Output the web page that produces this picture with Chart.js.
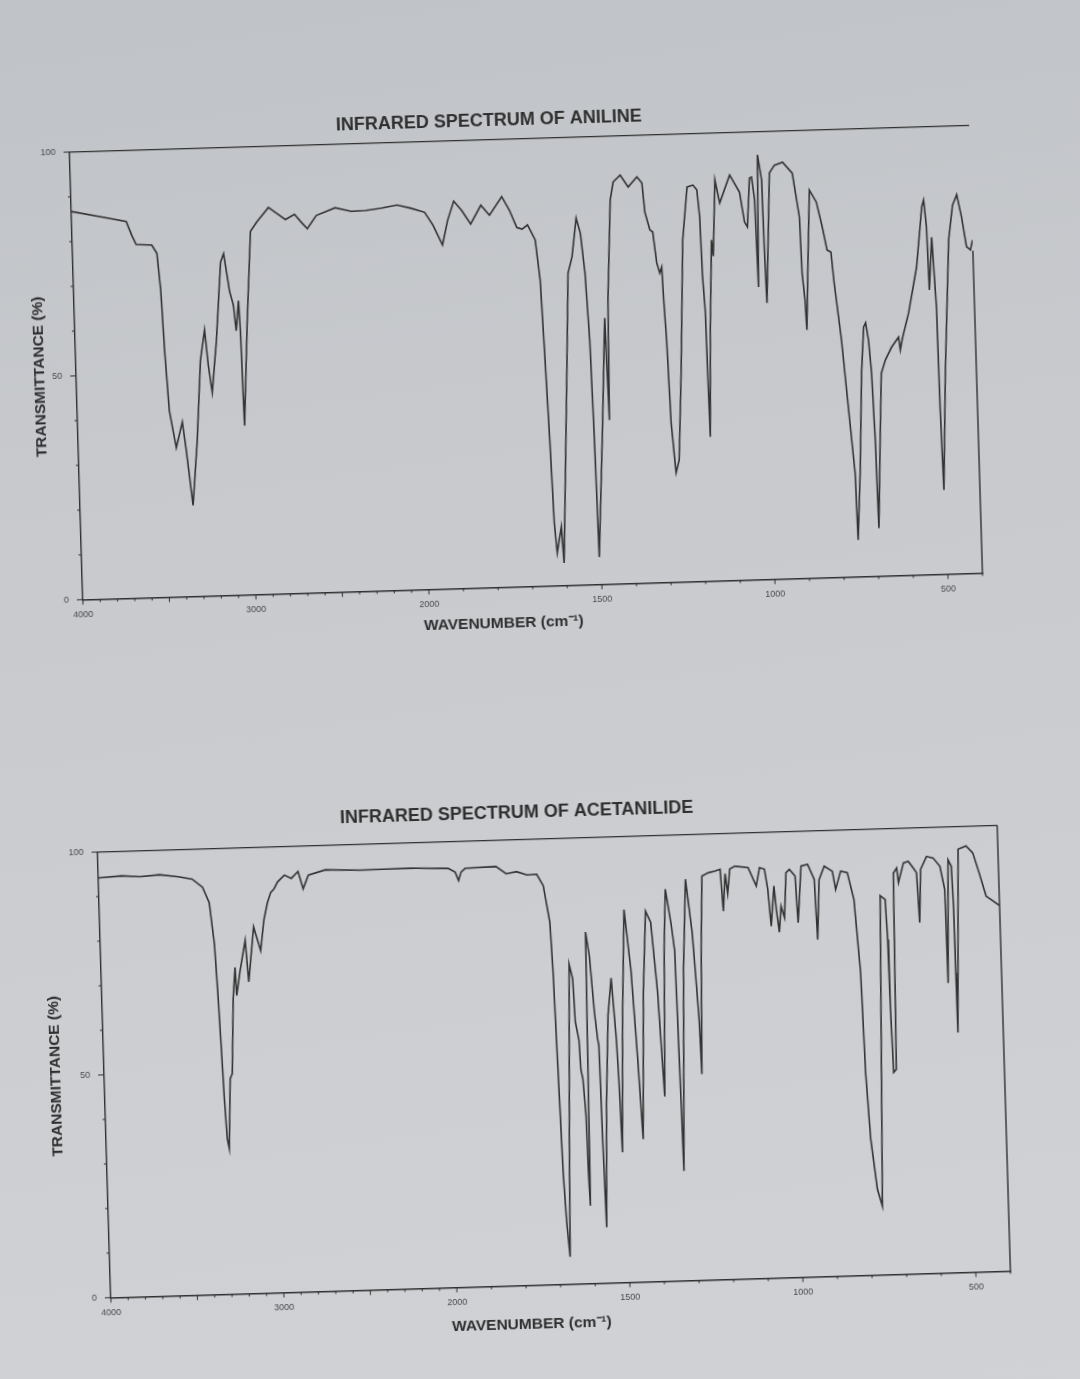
<!DOCTYPE html>
<html>
<head>
<meta charset="utf-8">
<script src="https://cdn.jsdelivr.net/npm/chart.js@4.4.1/dist/chart.umd.min.js"></script>
<style>
  html, body { margin: 0; padding: 0; }
  body {
    width: 1080px; height: 1379px; overflow: hidden; position: relative;
    background: linear-gradient(172deg, #c0c3c7 0%, #c9cbcf 45%, #d0d2d5 100%);
  }
  .sheet { position: absolute; left: 0; top: 0; }
  .sheet canvas { display: block; }
</style>
</head>
<body>
<div class="sheet" id="topBox"><canvas id="anilineChart"></canvas></div>
<div class="sheet" id="bottomBox"><canvas id="acetChart"></canvas></div>
<script>
// aniline: wavenumber (cm-1) and transmittance (%)
var anilineWn = [4000, 3804, 3685, 3654, 3631, 3541, 3513, 3497, 3485, 3468, 3434, 3395, 3377, 3347, 3312, 3280,
  3251, 3235, 3217, 3184, 3147, 3128, 3100, 3080, 3068, 3050, 3044, 3036, 3003, 2969, 2932, 2861,
  2810, 2765, 2712, 2674, 2640, 2586, 2476, 2384, 2298, 2211, 2118, 2039, 1980, 1957, 1931, 1914,
  1895, 1873, 1848, 1817, 1793, 1756, 1735, 1715, 1700, 1684, 1663, 1652, 1645, 1638, 1632, 1626,
  1612, 1607, 1583, 1571, 1558, 1543, 1532, 1522, 1514, 1509, 1505, 1485, 1469, 1464, 1458, 1443,
  1433, 1412, 1390, 1364, 1350, 1344, 1331, 1323, 1314, 1306, 1300, 1297, 1292, 1286, 1276, 1266,
  1253, 1237, 1220, 1203, 1192, 1186, 1183, 1178, 1174, 1165, 1154, 1150, 1139, 1127, 1096, 1069,
  1057, 1049, 1039, 1033, 1026, 1022, 1014, 1004, 1002, 999, 981, 966, 942, 915, 898, 895,
  889, 886, 877, 867, 848, 833, 821, 810, 804, 787, 773, 759, 756, 744, 732, 722,
  716, 709, 703, 698, 695, 684, 675, 662, 643, 622, 618, 611, 591, 564, 544, 538,
  532, 529, 518, 510, 508, 504, 490, 469, 455, 442, 430, 418, 407, 400]
var anilineT = [86.7, 85.1, 84.1, 80.9, 78.9, 78.7, 76.8, 68.5, 55.1, 41.6, 33.3, 39.0, 32.6, 20.3, 34.8, 52.6,
  59.4, 51.4, 45.4, 57.0, 74.4, 76.3, 67.9, 64.7, 59.0, 65.7, 59.0, 37.8, 61.0, 81.1, 83.1, 86.3,
  84.8, 83.5, 84.6, 82.8, 81.3, 84.2, 85.8, 84.9, 85.0, 85.4, 86.0, 85.2, 84.2, 81.3, 76.8, 82.3,
  86.5, 84.4, 81.3, 85.4, 83.1, 87.2, 84.1, 80.2, 79.8, 80.7, 77.3, 68.3, 51.1, 32.5, 14.0, 7.3,
  13.1, 5.0, 47.4, 69.7, 73.3, 81.9, 78.5, 69.6, 54.6, 32.3, 6.1, 34.4, 59.4, 36.6, 63.4, 85.7,
  89.7, 91.2, 88.5, 90.7, 89.3, 82.8, 78.8, 78.3, 71.4, 69.1, 70.4, 63.1, 54.1, 35.5, 24.4, 27.2,
  46.6, 76.3, 88.1, 88.5, 87.4, 81.3, 68.4, 60.5, 32.2, 56.0, 76.1, 72.5, 89.5, 84.3, 90.5, 86.6,
  79.9, 78.8, 89.7, 89.9, 84.8, 65.3, 94.8, 89.2, 73.5, 61.7, 90.7, 92.4, 93.0, 90.5, 80.6, 68.1,
  62.1, 55.4, 70.9, 86.6, 83.9, 78.3, 73.1, 72.6, 66.3, 52.9, 37.9, 23.1, 8.2, 23.8, 45.4, 55.7,
  56.6, 52.7, 45.3, 30.4, 10.7, 30.3, 45.2, 48.2, 51.0, 53.2, 50.3, 52.9, 58.5, 68.7, 82.1, 83.6,
  77.6, 63.5, 75.3, 59.7, 37.3, 18.8, 44.9, 74.6, 82.3, 84.6, 79.6, 72.9, 72.2, 74.4]

// acetanilide
var acetWn = [4000, 3864, 3760, 3646, 3537, 3459, 3400, 3364, 3341, 3329, 3319, 3310, 3300, 3290, 3273, 3260,
  3242, 3226, 3221, 3198, 3163, 3149, 3112, 3075, 3051, 3028, 3007, 2987, 2966, 2925, 2886, 2846,
  2819, 2787, 2688, 2490, 2194, 1989, 1969, 1960, 1952, 1940, 1851, 1822, 1792, 1762, 1734, 1716,
  1700, 1695, 1691, 1687, 1683, 1677, 1670, 1663, 1655, 1648, 1639, 1635, 1626, 1623, 1618, 1612,
  1610, 1607, 1603, 1598, 1589, 1579, 1572, 1569, 1566, 1562, 1552, 1540, 1528, 1518, 1514, 1510,
  1498, 1485, 1470, 1458, 1449, 1436, 1423, 1409, 1395, 1383, 1372, 1364, 1350, 1342, 1338, 1334,
  1318, 1305, 1290, 1282, 1277, 1274, 1265, 1257, 1238, 1219, 1204, 1198, 1190, 1184, 1176, 1161,
  1123, 1101, 1090, 1076, 1068, 1061, 1050, 1045, 1038, 1031, 1022, 1014, 1004, 988, 983, 970,
  951, 933, 928, 919, 903, 880, 872, 856, 837, 820, 807, 801, 792, 777, 764, 744,
  730, 726, 724, 720, 712, 704, 694, 690, 674, 660, 646, 637, 632, 625, 607, 588,
  569, 557, 555, 545, 536, 533, 532, 531, 515, 492, 473, 456, 438, 424, 400]
var acetT = [94.2, 94.5, 94.2, 94.5, 93.9, 93.3, 91.4, 87.9, 78.6, 67.0, 55.1, 43.8, 34.9, 32.6, 48.3, 49.4,
  66.2, 73.2, 66.9, 72.3, 79.2, 69.9, 82.2, 76.8, 83.7, 87.5, 89.8, 90.6, 92.1, 93.6, 92.8, 94.3,
  90.4, 93.4, 94.5, 94.2, 94.3, 94.0, 93.1, 91.2, 93.1, 93.9, 94.1, 92.4, 92.8, 92.0, 92.1, 89.5,
  81.2, 70.0, 55.0, 40.1, 25.1, 13.9, 6.1, 30.3, 52.7, 71.7, 68.4, 58.7, 54.6, 48.0, 45.9, 37.6,
  25.0, 17.4, 45.0, 78.8, 73.5, 60.7, 54.7, 53.3, 32.0, 12.5, 40.0, 60.0, 68.3, 54.6, 45.0, 29.2,
  60.0, 83.6, 70.0, 50.0, 32.0, 65.0, 83.1, 80.6, 65.0, 41.4, 75.0, 87.9, 80.0, 74.0, 50.0, 24.6,
  70.0, 90.0, 78.0, 66.0, 58.0, 46.2, 75.0, 90.6, 91.3, 91.6, 92.0, 82.6, 91.0, 86.5, 92.0, 92.6,
  92.2, 88.0, 92.1, 91.7, 87.2, 78.9, 87.9, 82.6, 77.5, 83.3, 80.7, 90.8, 91.5, 90.0, 79.5, 92.2,
  92.5, 89.1, 75.6, 89.0, 92.0, 90.8, 86.7, 90.8, 90.4, 84.3, 67.9, 45.3, 30.5, 19.2, 15.4, 85.0,
  84.1, 75.1, 60.2, 45.3, 46.0, 90.0, 91.1, 87.8, 92.2, 92.5, 91.0, 89.9, 78.7, 90.6, 93.5, 93.1,
  91.2, 86.0, 65.0, 92.6, 91.1, 82.1, 67.2, 53.8, 94.9, 95.6, 94.0, 89.4, 84.2, 83.4, 82.0]

var xLabelWn = [4000, 3000, 2000, 1500, 1000, 500]
var yLabelT = [0, 50, 100]

var ink = '#2f2f2f'
Chart.defaults.font.family = "'Liberation Sans', Arial, sans-serif"

// 4000-2000 is drawn at half the scale of 2000-400, like the printed chart
function toAxis(w) { return w >= 2000 ? (4000 - w) / 2 : 3000 - w }
function fromAxis(p) { return p <= 1000 ? 4000 - 2 * p : 3000 - p }

// top/right frame lines and the small tick marks
var frameTicks = {
  id: 'frameTicks',
  afterDraw: function(chart, args, opts) {
    var ctx = chart.ctx, a = chart.chartArea
    var xs = chart.scales.x, ys = chart.scales.y
    ctx.save()
    ctx.strokeStyle = ink
    ctx.lineWidth = 1.4
    ctx.beginPath()
    ctx.moveTo(a.left, a.top)
    ctx.lineTo(a.right, a.top)
    ctx.moveTo(a.right, a.bottom)
    ctx.lineTo(a.right, ys.getPixelForValue(opts.rightTop))
    ctx.stroke()
    ctx.lineWidth = 1
    ctx.beginPath()
    for (var w = 4000; w >= 400; w -= 100) {
      var px = xs.getPixelForValue(toAxis(w))
      var len = w % 500 === 0 ? 5 : 3
      ctx.moveTo(px, a.bottom)
      ctx.lineTo(px, a.bottom + len)
    }
    for (var t = 0; t <= 100; t += 10) {
      var py = ys.getPixelForValue(t)
      var len2 = t % 50 === 0 ? 6 : 3
      ctx.moveTo(a.left, py)
      ctx.lineTo(a.left - len2, py)
    }
    ctx.stroke()
    ctx.restore()
  }
}

function makeChart(canvasId, boxId, wn, tr, cfg) {
  var points = wn.map(function(w, i) { return {x: toAxis(w), y: tr[i]} })
  var W = 64 + 904 + 6
  var H = Math.round(4 + 21.6 + cfg.titleGap + cfg.areaH + 22 + cfg.xTitleGap + 18.6 + 4)
  var canvas = document.getElementById(canvasId)
  canvas.width = W
  canvas.height = H
  canvas.style.width = W + 'px'
  canvas.style.height = H + 'px'

  var chart = new Chart(canvas.getContext('2d'), {
    type: 'line',
    data: {
      datasets: [{
        data: points,
        borderColor: '#323232',
        borderWidth: 1.6,
        pointRadius: 0,
        tension: 0,
        fill: false
      }]
    },
    options: {
      responsive: false,
      animation: false,
      devicePixelRatio: 1,
      layout: { padding: { left: 0, right: 6, top: 0, bottom: 0 } },
      plugins: {
        legend: { display: false },
        tooltip: { enabled: false },
        title: {
          display: true,
          text: cfg.title,
          color: ink,
          font: { size: 18, weight: 'bold' },
          padding: { top: 4, bottom: cfg.titleGap }
        },
        subtitle: {
          display: true,
          position: 'bottom',
          text: 'WAVENUMBER (cm\u207B\u00B9)',
          color: ink,
          font: { size: 15.5, weight: 'bold' },
          padding: { top: cfg.xTitleGap, bottom: 4 }
        },
        frameTicks: { rightTop: cfg.rightTop }
      },
      scales: {
        x: {
          type: 'linear',
          min: 0,
          max: 2600,
          grid: { display: false, drawTicks: false },
          border: { display: true, color: ink, width: 1.4 },
          afterBuildTicks: function(s) {
            var t = []
            for (var w = 4000; w >= 400; w -= 100) t.push({ value: toAxis(w) })
            s.ticks = t
          },
          afterFit: function(s) { s.height = 22 },
          ticks: {
            autoSkip: false,
            maxRotation: 0,
            padding: 10,
            color: '#4a4a4a',
            font: { size: 9 },
            callback: function(v) {
              var w = Math.round(fromAxis(v))
              return xLabelWn.indexOf(w) >= 0 ? String(w) : ''
            }
          }
        },
        y: {
          min: 0,
          max: 100,
          grid: { display: false, drawTicks: false },
          border: { display: true, color: ink, width: 1.4 },
          afterFit: function(s) { s.width = 64 },
          ticks: {
            stepSize: 10,
            autoSkip: false,
            padding: 14,
            color: '#4a4a4a',
            font: { size: 9 },
            callback: function(v) { return yLabelT.indexOf(v) >= 0 ? String(v) : '' }
          },
          title: {
            display: true,
            text: 'TRANSMITTANCE (%)',
            color: ink,
            font: { size: 15.5, weight: 'bold' },
            padding: { top: cfg.yTitlePad, bottom: 0 }
          }
        }
      }
    },
    plugins: [frameTicks]
  })

  // make the plot area the exact height, then place and tilt it like the photo
  var ca = chart.chartArea
  var dh = cfg.areaH - (ca.bottom - ca.top)
  if (Math.abs(dh) > 0.5) {
    H = Math.round(H + dh)
    canvas.style.height = H + 'px'
    chart.resize(W, H)
    ca = chart.chartArea
  }
  var cx = (ca.left + ca.right) / 2
  var cy = (ca.top + ca.bottom) / 2
  var box = document.getElementById(boxId)
  box.style.left = (cfg.cx - cx) + 'px'
  box.style.top = (cfg.cy - cy) + 'px'
  box.style.transformOrigin = cx + 'px ' + cy + 'px'
  box.style.transform = 'rotate(' + cfg.angle + 'deg)'
  return chart
}

var anilineChart = makeChart('anilineChart', 'topBox', anilineWn, anilineT, {
  title: 'INFRARED SPECTRUM OF ANILINE',
  titleGap: 8, xTitleGap: 5, yTitlePad: 18.5, areaH: 448,
  rightTop: 72, cx: 525.6, cy: 362.3, angle: -1.7
})
var acetChart = makeChart('acetChart', 'bottomBox', acetWn, acetT, {
  title: 'INFRARED SPECTRUM OF ACETANILIDE',
  titleGap: 16, xTitleGap: 8, yTitlePad: 6, areaH: 446,
  rightTop: 100, cx: 554.4, cy: 1061.5, angle: -1.7
})
</script>
</body>
</html>
